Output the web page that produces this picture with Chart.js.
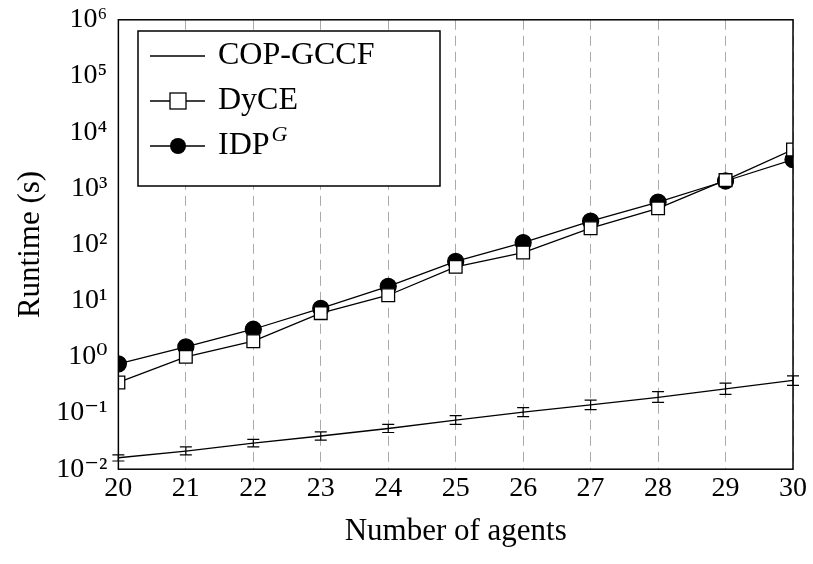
<!DOCTYPE html>
<html><head><meta charset="utf-8">
<script src="https://cdn.jsdelivr.net/npm/chart.js@4"></script>
<style>body{margin:0;background:#fff}#wrap{width:813px;height:564px}</style>
</head><body><div id="wrap"><canvas id="c"></canvas></div>
<script>
const agents = [20, 21, 22, 23, 24, 25, 26, 27, 28, 29, 30];
const copGccf = [0.016, 0.021, 0.029, 0.039, 0.053, 0.075, 0.104, 0.14, 0.19, 0.27, 0.38];
const copLow = [0.014, 0.018, 0.025, 0.033, 0.045, 0.063, 0.086, 0.115, 0.155, 0.215, 0.31];
const copHigh = [0.018, 0.025, 0.034, 0.046, 0.063, 0.09, 0.125, 0.17, 0.24, 0.34, 0.46];
const dyce = [0.35, 1.0, 1.9, 6.0, 12.5, 40, 72, 195, 440, 1400, 4900];
const idpG = [0.75, 1.5, 3.1, 7.3, 18, 50, 108, 260, 570, 1350, 3250];

const font = '"Liberation Serif", "DejaVu Serif", serif';
const sup = {'-': '⁻', '0': '⁰', '1': '¹', '2': '²', '3': '³', '4': '⁴', '5': '⁵', '6': '⁶'};

const extras = {
    id: 'extras',
    afterDatasetsDraw(chart) {
        const ctx = chart.ctx, xs = chart.scales.x, ys = chart.scales.y, a = chart.chartArea;
        ctx.save();
        ctx.strokeStyle = '#000';
        ctx.lineWidth = 1.2;
        // error bars for COP-GCCF
        agents.forEach(function(v, i) {
            const x = xs.getPixelForValue(v);
            const y1 = ys.getPixelForValue(copLow[i]), y2 = ys.getPixelForValue(copHigh[i]);
            ctx.beginPath();
            ctx.moveTo(x, y1); ctx.lineTo(x, y2);
            ctx.moveTo(x - 6, y1); ctx.lineTo(x + 6, y1);
            ctx.moveTo(x - 6, y2); ctx.lineTo(x + 6, y2);
            ctx.stroke();
        });
        // frame
        ctx.lineWidth = 1.5;
        ctx.strokeRect(a.left, a.top, a.right - a.left, a.bottom - a.top);
        // legend
        const lx = 138, ly = 31;
        ctx.fillStyle = '#fff';
        ctx.fillRect(lx, ly, 302, 155);
        ctx.strokeRect(lx, ly, 302, 155);
        const rows = [56, 101, 146];
        ctx.lineWidth = 1.3;
        rows.forEach(function(y) {
            ctx.beginPath(); ctx.moveTo(150, y); ctx.lineTo(205, y); ctx.stroke();
        });
        ctx.fillStyle = '#fff';
        ctx.fillRect(170, rows[1] - 8, 16, 16);
        ctx.strokeRect(170, rows[1] - 8, 16, 16);
        ctx.fillStyle = '#000';
        ctx.beginPath(); ctx.arc(178, rows[2], 8, 0, Math.PI * 2); ctx.fill();
        ctx.font = '32px ' + font;
        ctx.textBaseline = 'middle';
        ctx.fillText('COP-GCCF', 218, rows[0]);
        ctx.fillText('DyCE', 218, rows[1]);
        ctx.fillText('IDP', 218, rows[2]);
        const w = ctx.measureText('IDP').width;
        ctx.font = 'italic 22px ' + font;
        ctx.fillText('G', 218 + w + 2, rows[2] - 11);
        ctx.restore();
    }
};

new Chart(document.getElementById('c'), {
    type: 'line',
    data: {
        labels: agents,
        datasets: [
            { label: 'COP-GCCF', data: agents.map((x, i) => ({x: x, y: copGccf[i]})), borderColor: '#000', borderWidth: 1.3, pointRadius: 0 },
            { label: 'DyCE', data: agents.map((x, i) => ({x: x, y: dyce[i]})), borderColor: '#000', borderWidth: 1.3, pointStyle: 'rect', pointRadius: 9, pointBackgroundColor: '#fff', pointBorderColor: '#000', pointBorderWidth: 1.3 },
            { label: 'IDP^G', data: agents.map((x, i) => ({x: x, y: idpG[i]})), borderColor: '#000', borderWidth: 1.3, pointStyle: 'circle', pointRadius: 8, pointBackgroundColor: '#000', pointBorderColor: '#000' }
        ]
    },
    options: {
        responsive: true,
        maintainAspectRatio: false,
        animation: false,
        layout: { padding: { top: 17, right: 20, left: 8, bottom: 10 } },
        plugins: { legend: { display: false }, tooltip: { enabled: false } },
        scales: {
            x: {
                type: 'linear', min: 20, max: 30,
                ticks: { stepSize: 1, color: '#000', font: { family: font, size: 28 } },
                grid: { color: '#aaa', tickLength: 0, drawTicks: false },
                border: { display: false, dash: [10, 6] },
                title: { display: true, text: 'Number of agents', color: '#000', font: { family: font, size: 31 } }
            },
            y: {
                type: 'logarithmic', min: 0.01, max: 1e6,
                afterBuildTicks: function(s) { s.ticks = [-2, -1, 0, 1, 2, 3, 4, 5, 6].map(e => ({value: Math.pow(10, e)})); },
                ticks: {
                    autoSkip: false, color: '#000', font: { family: font, size: 28 },
                    callback: function(v) {
                        const e = Math.round(Math.log10(v));
                        return '10' + String(e).split('').map(c => sup[c]).join('');
                    }
                },
                grid: { display: false },
                border: { display: false },
                title: { display: true, text: 'Runtime (s)', color: '#000', font: { family: font, size: 31 } }
            }
        }
    },
    plugins: [extras]
});
</script></body></html>
